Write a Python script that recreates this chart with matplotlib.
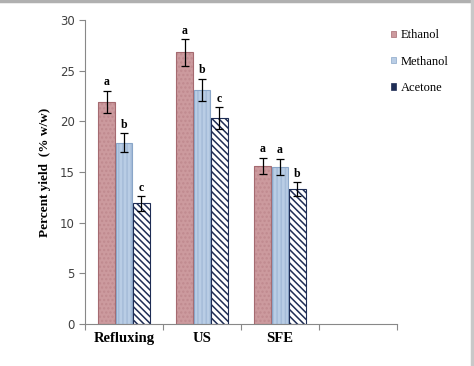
import matplotlib
matplotlib.use("Agg")
import matplotlib.pyplot as plt
import numpy as np
from matplotlib.patches import Rectangle
from matplotlib.lines import Line2D

categories = ["Refluxing", "US", "SFE", ""]
series = ["Ethanol", "Methanol", "Acetone"]
ethanol = [21.9, 26.8, 15.6]
methanol = [17.9, 23.1, 15.5]
acetone = [11.9, 20.3, 13.3]
ethanol_err = [1.1, 1.3, 0.8]
methanol_err = [0.9, 1.1, 0.8]
acetone_err = [0.7, 1.1, 0.7]
ethanol_lbl = ["a", "a", "a"]
methanol_lbl = ["b", "b", "a"]
acetone_lbl = ["c", "c", "b"]
yticks = [0, 5, 10, 15, 20, 25, 30]

plt.rcParams['hatch.linewidth'] = 1.1
fig = plt.figure(figsize=(4.74, 3.66), dpi=100)
ax = fig.add_axes([85/474, 42/366, 312/474, 304/366])

x = np.arange(3) + 0.5
step = 0.222
w = 0.21
vals = [ethanol, methanol, acetone]
errs = [ethanol_err, methanol_err, acetone_err]
lbls = [ethanol_lbl, methanol_lbl, acetone_lbl]
faces = ["#cc9a9e", "#b9cde5", "white"]
edges = ["#a56a70", "#8aa6c8", "#1f2d55"]
hatch_cols = ["#c08a8f", "#a5bcd9", "#1f2d55"]
hatches = ["....", "||||", "\\\\\\\\\\"]
offs = [-step, 0, step]
for i in range(3):
    bars = ax.bar(x + offs[i], vals[i], w, color=faces[i], edgecolor=hatch_cols[i],
                  hatch=hatches[i], linewidth=0, zorder=2)
    ax.bar(x + offs[i], vals[i], w, fill=False, edgecolor=edges[i], linewidth=0.8, zorder=3)
    ax.errorbar(x + offs[i], vals[i], yerr=errs[i], fmt='none', ecolor='black',
                elinewidth=0.9, capsize=3, capthick=0.9, zorder=4)
    for xi, v, e, l in zip(x + offs[i], vals[i], errs[i], lbls[i]):
        ax.text(xi, v + e + 0.25, l, ha='center', va='bottom', fontsize=8.5,
                fontweight='bold', family='Liberation Serif')

ax.set_xlim(0, 4)
ax.set_ylim(0, 30)
ax.set_yticks(yticks)
ax.set_yticklabels([str(t) for t in yticks], fontsize=8.5, color='#404040', family='DejaVu Sans')
ax.set_xticks(np.arange(5))
ax.set_xticklabels([])
ax.set_xticks(np.arange(4) + 0.5, minor=True)
ax.set_xticklabels(categories, minor=True, fontsize=10.5, fontweight='bold', family='Liberation Serif')
ax.tick_params(axis='x', which='minor', length=0, pad=6)
ax.tick_params(axis='both', which='major', direction='out', length=4, color='#888888', width=0.8)
for s in ['top', 'right']:
    ax.spines[s].set_visible(False)
for s in ['left', 'bottom']:
    ax.spines[s].set_color('#888888')
    ax.spines[s].set_linewidth(0.8)
ax.set_ylabel("Percent yield  (% w/w)", fontsize=9.5, fontweight='bold', family='Liberation Serif', labelpad=6)

# legend
handles = []
for i in range(3):
    handles.append(Rectangle((0, 0), 1, 1, facecolor=faces[i] if i < 2 else "#1f2d55",
                             edgecolor=edges[i], linewidth=0.5))
leg = fig.legend(handles, series, loc='upper left', bbox_to_anchor=(380/474, 1 - 18/366),
                 frameon=False, prop={'family': 'Liberation Serif', 'size': 9},
                 handlelength=0.4, handleheight=0.4, handletextpad=0.35, labelspacing=1.15)

# outer frame lines (top, right)
fig.add_artist(Line2D([0, 1], [1 - 1/366, 1 - 1/366], color='#b0b0b0', lw=2.5, transform=fig.transFigure))
fig.add_artist(Line2D([1 - 2/474, 1 - 2/474], [0, 1], color='#c8c8c8', lw=2.5, transform=fig.transFigure))

fig.savefig("out.png", dpi=100)
